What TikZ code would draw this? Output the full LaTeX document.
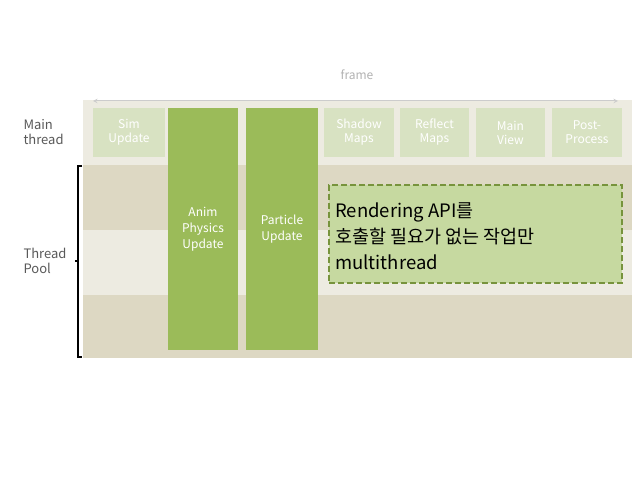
\documentclass[tikz,border=0pt]{standalone}
\usepackage{fontspec}
\setmainfont{Noto Sans CJK KR}
\begin{document}
\begin{tikzpicture}[x=1pt,y=-1pt,
  lbl/.style={text=black!65,font=\fontsize{13}{15}\selectfont,align=left,anchor=west},
  small/.style={fill=smallg,text=white,font=\fontsize{12}{14}\selectfont,align=center,inner sep=0pt},
  big/.style={fill=mgreen,text=white,font=\fontsize{12}{16}\selectfont,align=center,inner sep=0pt}]
\definecolor{lightb}{HTML}{EDEBE1}
\definecolor{darkb}{HTML}{DDD8C3}
\definecolor{smallg}{HTML}{D8E2C2}
\definecolor{mgreen}{HTML}{9BBB59}
\definecolor{dashg}{HTML}{C6D9A0}
\definecolor{dashb}{HTML}{77933C}
\useasboundingbox (0,0) rectangle (638,478);
\fill[white] (0,0) rectangle (638,478);
\fill[lightb] (83,100) rectangle (632,165);
\fill[darkb] (83,165) rectangle (632,230);
\fill[lightb] (83,230) rectangle (632,295);
\fill[darkb] (83,295) rectangle (632,358);
\coordinate (fl) at (93,101); \coordinate (fr) at (618,101);
\draw[black!20,line width=1pt,<->,>=stealth] (fl) -- (fr);
\node[text=black!30,font=\fontsize{12}{14}\selectfont] (frame) at (357,75) {frame};
\node[lbl] (mt) at (20,132) {Main\\thread};
\node[lbl] (tp) at (20,261) {Thread\\Pool};
\draw[black,line width=1.2pt] (82,166) -- (78,166) -- (78,357) -- (82,357) (78,261) -- (75,261);
\node[small,minimum width=72pt,minimum height=49pt] (sim) at (129,132.5) {Sim\\Update};
\node[small,minimum width=70pt,minimum height=49pt] (sh) at (359,132.5) {Shadow\\Maps};
\node[small,minimum width=69pt,minimum height=49pt] (rf) at (434.5,132.5) {Reflect\\Maps};
\node[small,minimum width=69pt,minimum height=49pt] (mv) at (510.5,132.5) {Main\\View};
\node[small,minimum width=70pt,minimum height=49pt] (pp) at (587,132.5) {Post-\\Process};
\node[big,minimum width=70pt,minimum height=242pt] (anim) at (203,229) {};
\node[text=white,font=\fontsize{12}{16}\selectfont,align=center] at (203,229) {Anim\\Physics\\Update};
\node[big,minimum width=72pt,minimum height=242pt] (part) at (282,229) {};
\node[text=white,font=\fontsize{12}{16}\selectfont,align=center] at (282,229) {Particle\\Update};
\node[draw=dashb,fill=dashg,dashed,dash pattern=on 6pt off 3pt,line width=2pt,minimum width=293pt,minimum height=98pt,inner sep=0pt] (db) at (475.5,234) {};
\node[anchor=west,align=left,text=black,font=\fontsize{18.5}{26}\selectfont,inner sep=0pt] (dt) at (335,236) {Rendering API를\\호출할 필요가 없는 작업만\\multithread};
\end{tikzpicture}
\end{document}
